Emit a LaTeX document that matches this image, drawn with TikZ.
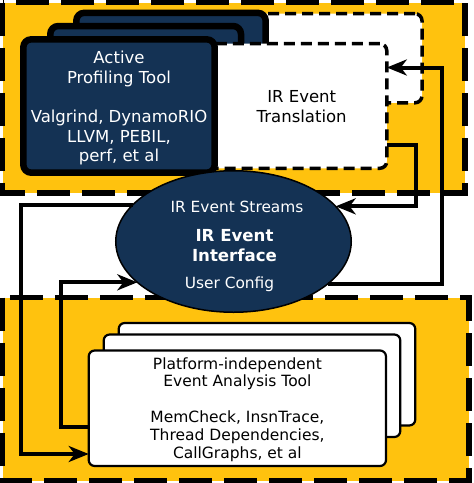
\documentclass[tikz,border=0pt]{standalone}
\usepackage{fontspec}
\setmainfont{DejaVu Sans}
\usetikzlibrary{arrows.meta,shapes.geometric}
\definecolor{navy}{RGB}{20,50,84}
\definecolor{gold}{RGB}{255,194,14}
\newcommand{\mlines}[1]{\begin{tabular}[t]{@{}c@{}}#1\end{tabular}}
\begin{document}
\begin{tikzpicture}[x=1pt,y=-1pt,
  region/.style={fill=gold, draw=black, line width=5.5pt, dash pattern=on 33pt off 12pt},
  navybox/.style={rectangle, draw=black, fill=navy, line width=6.5pt, rounded corners=8pt, inner sep=0pt, outer sep=0pt, anchor=north west},
  whitedash/.style={rectangle, draw=black, fill=white, line width=3.5pt, dash pattern=on 11pt off 6pt, rounded corners=7pt, inner sep=0pt, outer sep=0pt, anchor=north west},
  whitebox/.style={rectangle, draw=black, fill=white, line width=2.2pt, rounded corners=6pt, inner sep=0pt, outer sep=0pt, anchor=north west},
  conn/.style={draw=black, line width=4pt, -{Stealth[length=20pt,width=16pt,inset=6pt]}},
  txt/.style={anchor=base, inner sep=0pt, outer sep=0pt}
]
\useasboundingbox (0,0) rectangle (474,483);
% regions
\draw[region] (2.5,2.5) rectangle (465,193);
\draw[region] (2.5,297.5) rectangle (469,481);
% profiling / translation stacks
\node[whitedash, minimum width=187pt, minimum height=89.1pt] (transback) at (235,13.7) {};
\node[navybox, minimum width=189.4pt, minimum height=127.2pt] (navyback) at (76.3,12.8) {};
\node[navybox, minimum width=190.7pt, minimum height=124pt] (navymid) at (50.3,26) {};
\node[whitedash, minimum width=186.8pt, minimum height=124.6pt] (trans) at (200,43.7) {};
\node[navybox, minimum width=191.4pt, minimum height=133.4pt] (navyfront) at (23.3,39.3) {};
% analysis stack
\node[whitebox, minimum width=296.6pt, minimum height=102.5pt] (anaback) at (118.7,323) {};
\node[whitebox, minimum width=296.6pt, minimum height=102.5pt] (anamid) at (103.7,334.5) {};
\node[whitebox, minimum width=297.3pt, minimum height=115.5pt] (ana) at (88.7,350.5) {};
% interface
\node[ellipse, draw=black, fill=navy, line width=1.5pt, minimum width=235.5pt, minimum height=141.5pt, inner sep=0pt, outer sep=0pt] (iface) at (233.5,241.5) {};
% bend points
\coordinate (c1) at (442,67.5);
\coordinate (c2) at (415.5,145);
\coordinate (c3) at (21,454);
\coordinate (c4) at (60.5,427);
% connectors
\draw[conn] (iface.336.5) -| (c1) -- (c1 -| trans.east);
\draw[conn] (trans.east |- c2) -| (iface.19.9 -| c2) -- (iface.19.9);
\draw[conn] (iface.160.1) -| (c3) -- (c3 -| ana.west);
\draw[conn] (ana.west |- c4) -| (iface.203.5 -| c4) -- (iface.203.5);
% texts
\node[txt, text=white, font=\fontsize{16.5}{19.7}\selectfont] (navytxt) at (119,63.3)
  {\mlines{Active\\Profiling Tool\\ \\Valgrind, DynamoRIO\\LLVM, PEBIL,\\perf, et al}};
\node[txt, text=black, font=\fontsize{16.5}{19.7}\selectfont] (transtxt) at (301.7,102.3)
  {\mlines{IR Event\\Translation}};
\node[txt, text=white, font=\fontsize{15.4}{18}\selectfont] (streamtxt) at (237,212.7) {IR Event Streams};
\node[txt, text=white, font=\fontsize{16.6}{19.3}\selectfont\bfseries] (ifacetxt) at (234.5,241.7)
  {\mlines{IR Event\\Interface}};
\node[txt, text=white, font=\fontsize{15.4}{18}\selectfont] (configtxt) at (229.5,288) {User Config};
\node[txt, text=black, font=\fontsize{15.5}{17.9}\selectfont] (anatxt) at (237.4,369)
  {\mlines{Platform-independent\\Event Analysis Tool\\ \\MemCheck, InsnTrace,\\Thread Dependencies,\\CallGraphs, et al}};
\end{tikzpicture}
\end{document}
